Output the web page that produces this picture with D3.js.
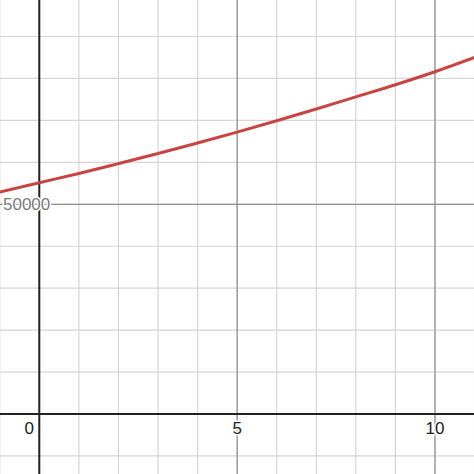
<!DOCTYPE html>
<html>
<head>
<meta charset="utf-8">
<script src="https://cdn.jsdelivr.net/npm/d3@7"></script>
<style>
  html, body { margin: 0; padding: 0; background: #fff; }
  svg { display: block; }
  text { font-family: "Liberation Sans", Arial, sans-serif; font-size: 17px; }
</style>
</head>
<body>
<svg id="chart" width="474" height="474"></svg>
<script>
// curve readings (x, value)
var xs = [-1, 0, 1, 2, 3, 4, 5, 6, 7, 8, 9, 10, 11];
var values = [52900, 55150, 57350, 59700, 62100, 64600, 67200, 69900, 72700, 75600, 78500, 81600, 85000];

var xTickLabels = [0, 5, 10];
var yTickLabels = [50000];
var xMinorTicks = d3.range(-1, 12, 1);
var yMinorTicks = d3.range(-10000, 100000, 10000);
var xMajorTicks = [5, 10];
var yMajorTicks = [50000];

var W = 474, H = 474;
var svg = d3.select('#chart');

var x = d3.scaleLinear().domain([-0.993, 10.986]).range([0, W]);
var y = d3.scaleLinear().domain([-14300, 98700]).range([H, 0]);

// minor grid
var grid = svg.append('g');
grid.selectAll('.vminor').data(xMinorTicks).enter().append('line')
  .attr('x1', function(d){ return x(d); }).attr('x2', function(d){ return x(d); })
  .attr('y1', 0).attr('y2', H)
  .attr('stroke', '#d6d6d6').attr('stroke-width', 1.2);
grid.selectAll('.hminor').data(yMinorTicks).enter().append('line')
  .attr('y1', function(d){ return y(d); }).attr('y2', function(d){ return y(d); })
  .attr('x1', 0).attr('x2', W)
  .attr('stroke', '#d6d6d6').attr('stroke-width', 1.2);

// major grid
grid.selectAll('.vmajor').data(xMajorTicks).enter().append('line')
  .attr('x1', function(d){ return x(d); }).attr('x2', function(d){ return x(d); })
  .attr('y1', 0).attr('y2', H)
  .attr('stroke', '#8f8f8f').attr('stroke-width', 1.2);
grid.selectAll('.hmajor').data(yMajorTicks).enter().append('line')
  .attr('y1', function(d){ return y(d); }).attr('y2', function(d){ return y(d); })
  .attr('x1', 0).attr('x2', W)
  .attr('stroke', '#8f8f8f').attr('stroke-width', 1.2);

// axes
svg.append('line').attr('x1', 0).attr('x2', W).attr('y1', y(0)).attr('y2', y(0))
  .attr('stroke', '#222').attr('stroke-width', 2);
svg.append('line').attr('x1', x(0)).attr('x2', x(0)).attr('y1', 0).attr('y2', H)
  .attr('stroke', '#222').attr('stroke-width', 2);

// curve
var line = d3.line()
  .x(function(d, i){ return x(xs[i]); })
  .y(function(d){ return y(d); })
  .curve(d3.curveMonotoneX);
svg.append('path').datum(values)
  .attr('d', line)
  .attr('fill', 'none')
  .attr('stroke', '#c74440')
  .attr('stroke-width', 3)
  .attr('stroke-linecap', 'round');

// x labels
svg.selectAll('.xlab').data(xTickLabels).enter().append('text')
  .attr('x', function(d){ return d === 0 ? x(d) - 10 : x(d); })
  .attr('y', y(0) + 20)
  .attr('text-anchor', 'middle')
  .attr('fill', '#222')
  .attr('stroke', '#fff').attr('stroke-width', 3).attr('paint-order', 'stroke')
  .text(function(d){ return d; });

// y labels
svg.selectAll('.ylab').data(yTickLabels).enter().append('text')
  .attr('x', x(0) + 11)
  .attr('y', function(d){ return y(d); })
  .attr('dy', '0.36em')
  .attr('text-anchor', 'end')
  .attr('fill', '#7a7a7a')
  .attr('stroke', '#fff').attr('stroke-width', 3).attr('paint-order', 'stroke')
  .text(function(d){ return d; });
</script>
</body>
</html>
